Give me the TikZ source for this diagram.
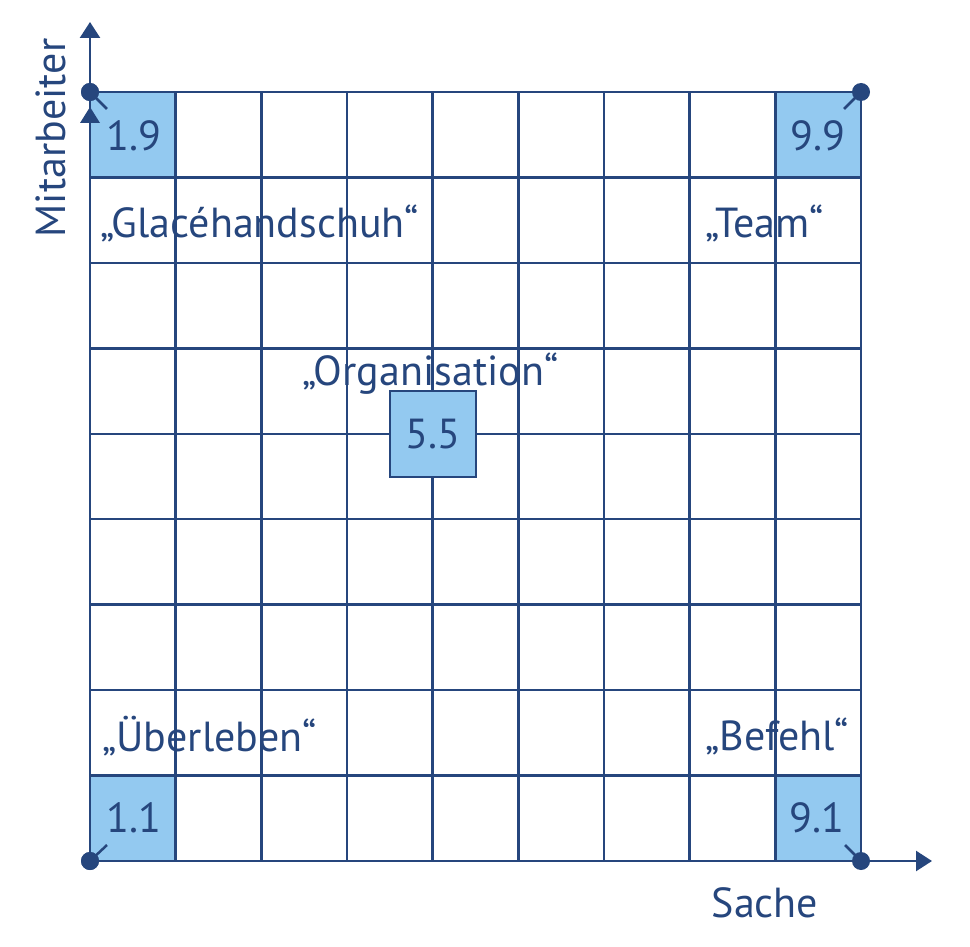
\documentclass[tikz,border=0pt]{standalone}
\usepackage{fontspec}
\setmainfont{PT Sans}
\usetikzlibrary{arrows.meta}
\definecolor{dblue}{HTML}{26467D}
\definecolor{lblue}{HTML}{93C9F0}
\begin{document}
\begin{tikzpicture}[x=1pt,y=-1pt,
  lbl/.style={text=dblue,font=\fontsize{42}{44}\selectfont,inner sep=0pt},
  gridline/.style={draw=dblue,line width=2.5pt},
  dotnode/.style={circle,fill=dblue,minimum size=18pt,inner sep=0pt},
  tick/.style={draw=dblue,line width=2.5pt},
  axis/.style={draw=dblue,line width=2.5pt,-{Triangle[length=16pt,width=20pt]}},
  boxnode/.style={draw=dblue,fill=lblue,line width=2pt,minimum size=86pt,inner sep=0pt,text=dblue,font=\fontsize{42}{44}\selectfont}]
\useasboundingbox (0,0) rectangle (970,947);
% highlighted corner cells
\fill[lblue] (90,92) rectangle (175.67,177.44);
\fill[lblue] (775.33,92) rectangle (861,177.44);
\fill[lblue] (90,775.56) rectangle (175.67,861);
\fill[lblue] (775.33,775.56) rectangle (861,861);
% labels under grid
\node[lbl,anchor=center] (t19) at (134,136) {1.9};
\node[lbl,anchor=center] (t99) at (818,136) {9.9};
\node[lbl,anchor=center] (t11) at (134,818) {1.1};
\node[lbl,anchor=center] (t91) at (817,818) {9.1};
\node[lbl,anchor=base west] (glace) at (100,237) {„Glacéhandschuh“};
\node[lbl,anchor=base west] (team) at (705,237) {„Team“};
\node[lbl,anchor=base west] (orga) at (302,385) {„Organisation“};
\node[lbl,anchor=base west] (ueber) at (102,751) {„Überleben“};
\node[lbl,anchor=base west] (befehl) at (705,750) {„Befehl“};
% grid
\foreach \k in {0,...,9}{
  \draw[gridline] ({90+\k*85.667},92) -- ({90+\k*85.667},861);
  \draw[gridline] (90,{92+\k*85.444}) -- (861,{92+\k*85.444});
}
% center box
\node[boxnode] (c55) at (432.67,434.33) {5.5};
% axes
\coordinate (ytip) at (90,22);
\coordinate (xtip) at (932,861);
\node[dotnode] (d11) at (90,861) {};
\node[dotnode] (d19) at (90,92) {};
\node[dotnode] (d99) at (861,92) {};
\node[dotnode] (d91) at (861,861) {};
\draw[axis] (d11.center) -- (ytip);
\draw[axis] (d91.center) -- (xtip);
\fill[dblue] (80,123) -- (100,123) -- (90,107) -- cycle;
% dots on top
\node[dotnode] at (d11) {};
\node[dotnode] at (d19) {};
\coordinate (k19) at (107,109);
\coordinate (k99) at (844,109);
\coordinate (k11) at (107,845);
\coordinate (k91) at (845,845);
\draw[tick] (d19.center) -- (k19);
\draw[tick] (d99.center) -- (k99);
\draw[tick] (d11.center) -- (k11);
\draw[tick] (d91.center) -- (k91);
% axis labels
\node[lbl,anchor=base] (sache) at (765,917) {Sache};
\node[lbl,anchor=base,rotate=90] (mitarb) at (65,138) {Mitarbeiter};
\end{tikzpicture}
\end{document}
